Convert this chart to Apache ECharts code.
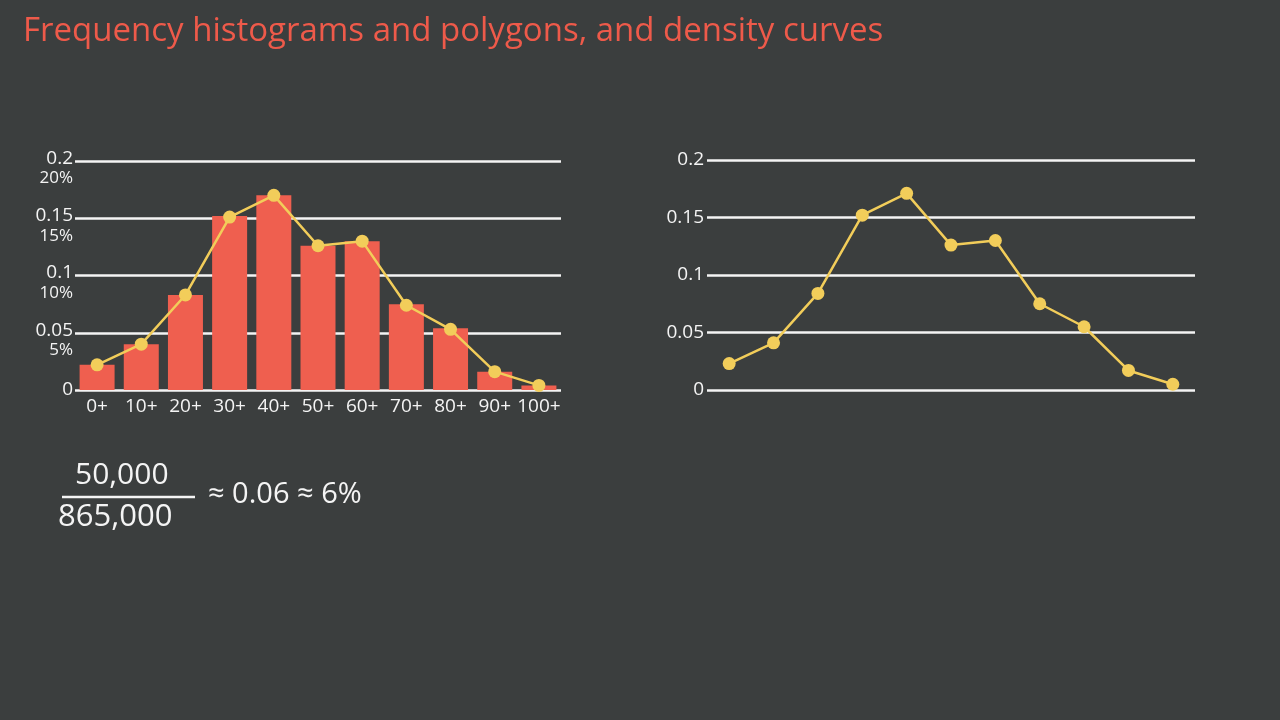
<!DOCTYPE html>
<html>
<head>
<meta charset="utf-8">
<script src="https://cdn.jsdelivr.net/npm/echarts@6/dist/echarts.min.js"></script>
<style>
  html, body { margin: 0; padding: 0; background: #3b3e3e; }
  #chart { width: 1280px; height: 720px; }
</style>
</head>
<body>
<div id="chart"></div>
<script>
const categories = ['0+', '10+', '20+', '30+', '40+', '50+', '60+', '70+', '80+', '90+', '100+'];
const relFreq = [0.022, 0.040, 0.083, 0.152, 0.170, 0.126, 0.130, 0.075, 0.054, 0.016, 0.004];
const polygon = [0.022, 0.040, 0.083, 0.151, 0.170, 0.126, 0.130, 0.074, 0.053, 0.016, 0.004];
const density = [0.023, 0.041, 0.084, 0.152, 0.171, 0.126, 0.130, 0.075, 0.055, 0.017, 0.005];
const percentTicks = {0.05: '5%', 0.1: '10%', 0.15: '15%', 0.2: '20%'};
const titleText = 'Frequency histograms and polygons, and density curves';
const numerator = '50,000';
const denominator = '865,000';
const approxText = '≈ 0.06 ≈ 6%';

const FONT = '"Open Sans", sans-serif';
const WHITE = '#f4f4f4';
const RED = '#ef5f4f';
const YEL = '#f2cd5a';

function fmtNum(v) {
  if (v === 0) return '0';
  return String(Math.round(v * 100) / 100);
}

const chart = echarts.init(document.getElementById('chart'));
chart.setOption({
  backgroundColor: '#3b3e3e',
  animation: false,
  title: {
    text: titleText,
    left: 18, top: 10,
    textStyle: { color: '#ee5a4a', fontFamily: FONT, fontSize: 33, fontWeight: 'normal' }
  },
  grid: [
    { left: 75, right: 719, top: 161, bottom: 330 },
    { left: 707, right: 85, top: 160, bottom: 330 }
  ],
  xAxis: [
    {
      gridIndex: 0, type: 'category', data: categories, boundaryGap: true,
      axisLine: { show: false }, axisTick: { show: false },
      axisLabel: { color: WHITE, fontFamily: FONT, fontSize: 19, margin: 7, interval: 0 }
    },
    {
      gridIndex: 1, type: 'category', data: categories, boundaryGap: true,
      axisLine: { show: false }, axisTick: { show: false }, axisLabel: { show: false }
    }
  ],
  yAxis: [
    {
      gridIndex: 0, type: 'value', min: 0, max: 0.2, interval: 0.05,
      axisLine: { show: false }, axisTick: { show: false },
      splitLine: { lineStyle: { color: WHITE, width: 2.5 } },
      axisLabel: {
        margin: 2, color: WHITE, fontFamily: FONT, fontSize: 19,
        formatter: function (v) {
          const key = Math.round(v * 100) / 100;
          if (percentTicks[key]) return '{p|}\n{a|' + fmtNum(v) + '}\n{b|' + percentTicks[key] + '}';
          return '{a|' + fmtNum(v) + '}';
        },
        rich: {
          p: { lineHeight: 14, fontSize: 10 },
          a: { color: WHITE, fontFamily: FONT, fontSize: 19, lineHeight: 21, align: 'right' },
          b: { color: WHITE, fontFamily: FONT, fontSize: 17, lineHeight: 19, align: 'right' }
        }
      }
    },
    {
      gridIndex: 1, type: 'value', min: 0, max: 0.2, interval: 0.05,
      axisLine: { show: false }, axisTick: { show: false },
      splitLine: { lineStyle: { color: WHITE, width: 2.5 } },
      axisLabel: {
        margin: 3, color: WHITE, fontFamily: FONT, fontSize: 19,
        formatter: fmtNum
      }
    }
  ],
  series: [
    {
      type: 'bar', xAxisIndex: 0, yAxisIndex: 0, data: relFreq,
      barWidth: 35, itemStyle: { color: RED }, z: 2
    },
    {
      type: 'line', xAxisIndex: 0, yAxisIndex: 0, data: polygon,
      symbol: 'circle', symbolSize: 13, lineStyle: { color: YEL, width: 2.5 },
      itemStyle: { color: YEL }, z: 3
    },
    {
      type: 'line', xAxisIndex: 1, yAxisIndex: 1, data: density,
      symbol: 'circle', symbolSize: 13, lineStyle: { color: YEL, width: 2.5 },
      itemStyle: { color: YEL }, z: 3
    }
  ],
  graphic: [
    {
      type: 'text', left: 75, top: 460,
      style: { text: numerator, fill: WHITE, font: '30px ' + FONT }
    },
    {
      type: 'line', shape: { x1: 62, y1: 497, x2: 195, y2: 497 },
      style: { stroke: WHITE, lineWidth: 2.5 }
    },
    {
      type: 'text', left: 58, top: 502,
      style: { text: denominator, fill: WHITE, font: '31px ' + FONT }
    },
    {
      type: 'text', left: 208, top: 480,
      style: { text: approxText, fill: WHITE, font: '29px ' + FONT }
    }
  ]
});
</script>
</body>
</html>
